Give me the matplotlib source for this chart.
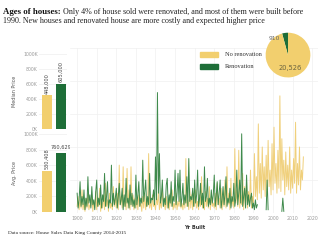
import numpy as np
import matplotlib
matplotlib.use('Agg')
import matplotlib.pyplot as plt
from matplotlib.patches import Rectangle
from matplotlib.ticker import FuncFormatter

# ---- data ----
groups = ['No renovation', 'Renovation']
median_price = [448000, 605000]
avg_price = [530408, 760629]
house_count = [20526, 910]

N = None
# right panel: values every half year of Yr Built, 1900.0 .. 2015.5 (relative scale)
no_renov = [4, 10, 2, 8, 3, 14, 2, 6, 1, 9, 3, 12, 2, 5, 4, 11, 1, 7, 3, 13,
            2, 9, 4, 15, 1, 7, 3, 11, 2, 18, 4, 8, 1, 12, 3, 6, 2, 16, 4, 9,
            3, 12, 2, 29, 5, 10, 3, 28, 4, 8, 2, 27, 3, 14, 2, 28, 4, 11, 2, 9,
            3, 8, 2, 11, 4, 6, 1, 10, 3, 12, 2, 9, 4, 36, 3, 7, 2, 11, 4, 6,
            2, 9, 5, 13, 2, 7, 3, 15, 4, 6, 2, 10, 3, 8, 2, 12, 4, 14, 2, 6,
            3, 12, 2, 7, 4, 10, 3, 6, 2, 9, 3, 33, 4, 8, 2, 15, 3, 11, 2, 12,
            4, 14, 3, 7, 2, 11, 4, 22, 3, 8, 2, 13, 4, 9, 3, 16, 2, 10, 4, 6,
            3, 12, 2, 18, 5, 9, 3, 15, 2, 10, 4, 20, 3, 28, 5, 12, 2, 21, 4, 9,
            3, 39, 6, 14, 4, 38, 3, 11, 5, 24, 2, 16, 4, 19, 3, 13, 5, 26, 3, 10,
            6, 36, 10, 22, 8, 54, 12, 30, 9, 40, 14, 28, 10, 35, 12, 44, 16, 26, 11, 42,
            14, 52, 18, 30, 12, 38, 15, 71, 13, 45, 20, 32, 11, 37, 16, 29, 14, 40, 12, 26,
            15, 33, 18, 55, 12, 30, 17, 40, 14, 26, 20, 34]
renov = [12, 3, 8, 19, 4, 10, 5, 14, 2, 9, 4, 22, 6, 11, 3, 16, 5, 8, 2, 13,
         20, 4, 9, 5, 17, 3, 11, 7, 24, 4, 10, 19, 3, 8, 6, 29, 4, 12, 5, 9,
         15, 3, 10, 18, 5, 8, 15, 2, 11, 4, 21, 6, 9, 3, 17, 5, 12, 4, 8, 3,
         23, 5, 11, 19, 4, 9, 6, 32, 7, 13, 20, 4, 10, 5, 24, 6, 9, 8, 14, 5,
         34, 8, 73, 12, 36, 6, 10, 20, 4, 9, 5, 17, 21, 3, 11, 6, 19, 4, 10, 7,
         26, 5, 12, 24, 7, 26, 4, 9, 18, 5, 11, 6, 22, 4, 33, 7, 10, 8, 15, 4,
         20, 6, 11, 26, 4, 9, 18, 5, 12, 3, 28, 7, 10, 21, 4, 9, 5, 14, 6, 11,
         23, 4, 10, 19, 5, 12, 20, 3, 8, 16, 5, 11, 22, 4, 9, 6, 15, 3, 10, 7,
         18, 4, 9, 26, 5, 12, 20, 6, 48, 4, 10, 15, 3, 23, 5, 11, 4, 9, 12, 3,
         6, 2, 8, 3, 5, N, N, N, N, N, N, N, N, 2, 20, 2, N, N, N, N,
         N, N, N, N, N, N, N, N, N, 1, 9, 1, N, N, N, N, N, N, N, N,
         N, N, N, N, N, N, N, N, N, N, N, N]
years = 1900 + 0.5 * np.arange(len(no_renov))

yellow = '#F2CF6E'
green = '#1E6E38'
serif = 'Liberation Serif'

fig = plt.figure(figsize=(3.2, 2.4), dpi=100)

kfmt = FuncFormatter(lambda v, p: '%dK' % (v / 1000))


def bar_panel(rect, vals, ylabel):
    ax = fig.add_axes(rect)
    ax.bar([0, 1], vals, width=0.75, color=[yellow, green])
    ax.set_xlim(-0.55, 1.45)
    ax.set_ylim(0, 1000000)
    ax.set_yticks(range(0, 1000001, 200000))
    ax.yaxis.set_major_formatter(kfmt)
    ax.set_xticks([])
    ax.tick_params(axis='y', length=0, labelsize=3.3, labelcolor='#999999', pad=1)
    for s in ax.spines.values():
        s.set_visible(False)
    ax.grid(axis='y', color='#eeeeee', linewidth=0.5)
    ax.set_axisbelow(True)
    ax.set_ylabel(ylabel, fontsize=3.5, color='#555555', labelpad=4)
    return ax


ax1 = bar_panel([0.122, 0.4625, 0.088, 0.3125], median_price, 'Median Price')
for x, v in enumerate(median_price):
    ax1.text(x, v + 20000, '{:,}'.format(v), rotation=90, ha='center', va='bottom',
             fontsize=3.6, color='#444444')

ax2 = bar_panel([0.122, 0.117, 0.088, 0.325], avg_price, 'Avg. Price')
ax2.text(0, avg_price[0] + 20000, '{:,}'.format(avg_price[0]), rotation=90,
         ha='center', va='bottom', fontsize=3.6, color='#444444')
ax2.text(1, avg_price[1] + 40000, '{:,}'.format(avg_price[1]), ha='center',
         va='bottom', fontsize=3.6, color='#444444')

# right panel: lines by year built
ax3 = fig.add_axes([0.219, 0.1125, 0.775, 0.6875])
y_no = np.array(no_renov, dtype=float)
y_re = np.array([np.nan if v is None else v for v in renov], dtype=float)
ax3.plot(years, y_no, color='#F0D07C', linewidth=0.7)
ax3.plot(years, y_re, color='#3f8a4c', linewidth=0.7)
ax3.set_xlim(1896.4, 2023)
ax3.set_ylim(0, 100)
ax3.set_xticks(range(1900, 2021, 10))
ax3.set_yticks(range(0, 101, 20))
ax3.set_yticklabels([])
ax3.tick_params(length=0, labelsize=3.3, labelcolor='#999999', pad=2)
for s in ax3.spines.values():
    s.set_visible(False)
ax3.grid(color='#f0f0f0', linewidth=0.5)
ax3.set_axisbelow(True)
ax3.set_xlabel('Yr Built', fontsize=3.6, color='#333333', labelpad=3, fontweight='bold')

# pie inset
ax4 = fig.add_axes([0.8125, 0.654, 0.175, 0.233])
ax4.pie([house_count[1], house_count[0]], colors=[green, yellow], startangle=90,
        counterclock=True, wedgeprops=dict(linewidth=0))
ax4.set_aspect('equal')
ax4.text(-0.62, 0.72, '{:,}'.format(house_count[1]), fontsize=4.3, color='#666666',
         ha='center', va='center')
ax4.text(0.08, -0.58, '{:,}'.format(house_count[0]), fontsize=4.8, color='#6b6440',
         ha='center', va='center')

# legend
for i, (lab, col) in enumerate(zip(groups, [yellow, green])):
    y = 1 - (57 + 12 * i) / 240
    fig.patches.append(Rectangle((200 / 320, y), 18 / 320, 4.5 / 240,
                                 transform=fig.transFigure, color=col))
    fig.text(225 / 320, y + 2.2 / 240, lab, fontsize=4.6, family=serif,
             color='#333333', va='center')

# title
t = fig.text(3 / 320, 1 - 14 / 240, 'Ages of houses:', fontsize=6.3, family=serif,
             fontweight='bold', va='baseline', color='#111111')
fig.canvas.draw()
bb = t.get_window_extent()
fig.text((bb.x1 + 2.5) / 320, 1 - 14 / 240,
         'Only 4% of house sold were renovated, and most of them were built before',
         fontsize=5.8, family=serif, va='baseline', color='#222222')
fig.text(3 / 320, 1 - 23 / 240,
         '1990. New houses and renovated house are more costly and expected higher price',
         fontsize=5.8, family=serif, va='baseline', color='#222222')

fig.text(8 / 320, 1 - 233 / 240, 'Data source: House Sales Data King County 2014-2015',
         fontsize=3.8, family=serif, va='center', color='#222222')

fig.savefig('out.png', dpi=100)
